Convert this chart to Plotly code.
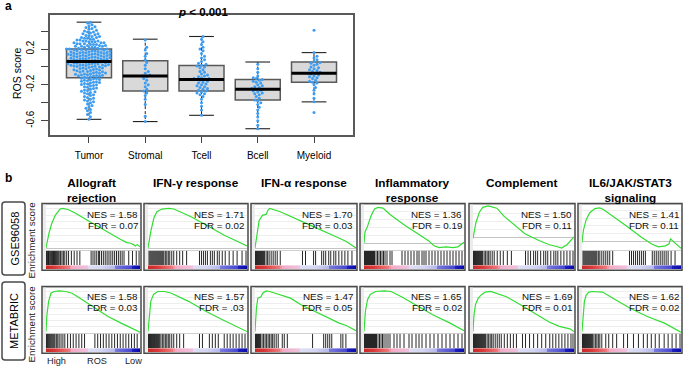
import plotly.graph_objects as go

W, H = 685, 368
FONT = "Liberation Sans, Arial, sans-serif"

# ---------------- panel a data ----------------
categories = ["Tumor", "Stromal", "Tcell", "Bcell", "Myeloid"]
tumor = [0.50, 0.49, 0.47, 0.46, 0.45, 0.44, 0.43, 0.42, 0.41, 0.40,
         0.39, 0.39, 0.38, 0.37, 0.37, 0.36, 0.35, 0.35, 0.34, 0.34, 0.33, 0.33, 0.32, 0.32, 0.31, 0.31, 0.30, 0.30,
         0.29, 0.29, 0.29, 0.28, 0.28, 0.28, 0.27, 0.27, 0.27, 0.26, 0.26, 0.26, 0.25, 0.25, 0.25, 0.24, 0.24,
         0.24, 0.23, 0.23, 0.23, 0.22, 0.22, 0.22, 0.21, 0.21, 0.21, 0.20, 0.20, 0.20,
         0.199, 0.195, 0.19, 0.188, 0.185, 0.182, 0.18, 0.178, 0.175, 0.172, 0.17, 0.168, 0.165, 0.162, 0.16,
         0.158, 0.155, 0.152, 0.15, 0.148, 0.145, 0.143, 0.142, 0.14, 0.138, 0.135, 0.132, 0.13, 0.128, 0.125,
         0.122, 0.12, 0.118, 0.115, 0.112, 0.11, 0.108, 0.105, 0.102, 0.10,
         0.098, 0.095, 0.092, 0.09, 0.088, 0.085, 0.082, 0.08, 0.078, 0.075, 0.072, 0.07, 0.068, 0.065, 0.062,
         0.06, 0.058, 0.055, 0.052, 0.05, 0.048, 0.045, 0.042, 0.04, 0.038, 0.035, 0.032, 0.03, 0.028, 0.025,
         0.022, 0.02, 0.018, 0.015, 0.012, 0.01, 0.008, 0.005, 0.002, 0.0,
         -0.005, -0.01, -0.013, -0.017, -0.02, -0.024, -0.028, -0.031, -0.035, -0.039, -0.042, -0.046, -0.05,
         -0.053, -0.057, -0.06, -0.064, -0.068, -0.071, -0.075, -0.079, -0.082, -0.086, -0.09, -0.093, -0.096,
         -0.098, -0.10,
         -0.105, -0.11, -0.115, -0.12, -0.125, -0.13, -0.135, -0.14, -0.145, -0.15, -0.155, -0.16, -0.165,
         -0.17, -0.175, -0.18, -0.185, -0.19, -0.195, -0.20,
         -0.207, -0.214, -0.221, -0.228, -0.235, -0.242, -0.25, -0.257, -0.264, -0.271, -0.278, -0.285,
         -0.292, -0.30,
         -0.31, -0.32, -0.33, -0.34, -0.35, -0.36, -0.37, -0.38, -0.39, -0.40,
         -0.415, -0.43, -0.445, -0.46, -0.475, -0.49,
         -0.51, -0.53, -0.555, -0.585]
stromal = [0.30, 0.22, 0.19, 0.15, 0.12, 0.08, 0.05, 0.02, -0.02, -0.05, -0.07, -0.09, -0.10, -0.11,
           -0.13, -0.15, -0.18, -0.20, -0.22, -0.25, -0.27, -0.29, -0.32, -0.36, -0.42, -0.55, -0.61]
tcell = [0.34, 0.31, 0.28, 0.25, 0.22, 0.20, 0.18, 0.15, 0.12, 0.10, 0.08, 0.06, 0.04, 0.03, 0.02, 0.01,
         0.0, -0.01, -0.03, -0.05, -0.06, -0.08, -0.09, -0.10, -0.11, -0.12, -0.13, -0.13, -0.14, -0.14,
         -0.15, -0.16, -0.17, -0.18, -0.19, -0.20, -0.21, -0.22, -0.23, -0.24, -0.25, -0.26, -0.27, -0.28,
         -0.29, -0.30, -0.31, -0.33, -0.36, -0.40, -0.44, -0.48, -0.54]
bcell = [0.03, -0.02, -0.06, -0.10, -0.12, -0.13, -0.14, -0.15, -0.16, -0.17, -0.18, -0.20, -0.21, -0.22,
         -0.23, -0.24, -0.25, -0.25, -0.26, -0.27, -0.28, -0.29, -0.30, -0.31, -0.33, -0.35, -0.37, -0.38,
         -0.40, -0.42, -0.45, -0.48, -0.52, -0.56, -0.60, -0.65, -0.69]
myeloid = [0.41, 0.16, 0.12, 0.10, 0.08, 0.06, 0.05, 0.04, 0.03, 0.02, 0.0, -0.01, -0.02, -0.03, -0.04,
           -0.05, -0.06, -0.07, -0.07, -0.08, -0.09, -0.10, -0.11, -0.12, -0.13, -0.15, -0.16, -0.17, -0.18,
           -0.20, -0.23, -0.26, -0.30, -0.35, -0.39, -0.51]
group_values = [tumor, stromal, tcell, bcell, myeloid]
box_q1 = [-0.12, -0.27, -0.27, -0.37, -0.17]
box_median = [0.06, -0.10, -0.14, -0.25, -0.07]
box_q3 = [0.20, 0.07, 0.015, -0.14, 0.055]
whisker_low = [-0.585, -0.61, -0.54, -0.69, -0.39]
whisker_high = [0.50, 0.31, 0.34, 0.055, 0.16]
y_ticks = [0.4, 0.2, 0.0, -0.2, -0.4, -0.6]
y_tick_text = ["", "0.2", "", "-0.2", "", "-0.6"]

# ---------------- panel b data ----------------
gene_sets = ["Allograft<br>rejection", "IFN-γ response", "IFN-α response",
             "Inflammatory<br>response", "Complement", "IL6/JAK/STAT3<br>signaling"]
cohorts = ["GSE96058", "METABRIC"]
nes = [[1.58, 1.71, 1.70, 1.36, 1.50, 1.41],
       [1.58, 1.57, 1.47, 1.65, 1.69, 1.62]]
fdr = [["0.07", "0.02", "0.03", "0.19", "0.11", "0.11"],
       ["0.03", ".03", "0.05", "0.02", "0.01", "0.02"]]

es_rank_gse = [
    [0, 3, 6, 10, 15, 18, 24, 31, 48, 65, 79, 86, 90, 93, 95, 97, 100],
    [0, 3, 6, 9, 14, 21, 26, 43, 60, 77, 90, 100],
    [0, 2.4, 4.1, 7.6, 11, 12.8, 14.5, 25, 42, 59, 77, 90, 100],
    [0, 1, 3.5, 7, 10.5, 14, 19, 26, 40, 54, 64.5, 70, 75, 82, 89, 94, 97.5, 100],
    [0, 1, 2.8, 6.3, 9.7, 15, 20, 23.6, 30.6, 41, 51.4, 65.3, 75.7, 82.6, 87.8, 93, 96.5, 100],
    [0, 1.4, 4.2, 7.7, 12.9, 18, 21.6, 32, 46, 60, 70.4, 77.4, 84.3, 87.8, 89.5, 91.3, 94.8, 100],
]
es_score_gse = [
    [0.01, 0.22, 0.37, 0.50, 0.59, 0.60, 0.58, 0.53, 0.39, 0.25, 0.14, 0.09, 0.08, 0.06, 0.04, 0.06, 0.03],
    [0.01, 0.27, 0.46, 0.55, 0.59, 0.60, 0.59, 0.48, 0.34, 0.20, 0.11, 0.04],
    [0.01, 0.30, 0.42, 0.50, 0.51, 0.57, 0.60, 0.55, 0.43, 0.32, 0.20, 0.11, 0.01],
    [0.0, 0.14, 0.21, 0.34, 0.43, 0.45, 0.44, 0.36, 0.23, 0.12, 0.03, -0.035, -0.057, -0.048, -0.057, -0.048, -0.013, 0.01],
    [-0.01, 0.05, 0.185, 0.32, 0.38, 0.40, 0.38, 0.37, 0.27, 0.16, 0.05, -0.035, -0.088, -0.11, -0.13, -0.088, -0.035, 0.01],
    [-0.01, 0.145, 0.28, 0.365, 0.42, 0.43, 0.41, 0.32, 0.19, 0.057, -0.03, -0.066, -0.053, -0.03, 0.035, 0.013, -0.03, -0.084],
]
es_rank_met = [
    [0, 1, 2.8, 5.2, 8.7, 13.9, 20.8, 27.8, 38.2, 52.1, 66, 79.9, 90.3, 100],
    [0, 1.4, 2.8, 5.6, 9.7, 16.7, 23.6, 41, 58.3, 75.7, 89.6, 100],
    [0, 1.4, 2.8, 4.1, 5.9, 7.6, 11, 14.5, 24.8, 35.2, 45.5, 59.3, 76.6, 83.4, 90.3, 100],
    [0, 1.4, 3.5, 6.3, 11.5, 20.1, 27, 37.5, 51.4, 68.75, 86.1, 100],
    [0, 1, 2.4, 5.2, 8.7, 12.2, 17.4, 22.6, 33.1, 47, 61, 74.9, 85.4, 95.8, 100],
    [0, 1, 2.4, 4.2, 6.9, 10.4, 17.4, 20.8, 31.25, 48.6, 66, 83.3, 100],
]
es_score_met = [
    [0.01, 0.30, 0.53, 0.67, 0.70, 0.71, 0.70, 0.67, 0.56, 0.41, 0.27, 0.155, 0.08, 0.0],
    [0.01, 0.36, 0.53, 0.65, 0.70, 0.70, 0.67, 0.53, 0.36, 0.21, 0.10, 0.01],
    [0.01, 0.41, 0.585, 0.60, 0.61, 0.67, 0.71, 0.70, 0.64, 0.585, 0.47, 0.36, 0.21, 0.155, 0.115, 0.023],
    [0.01, 0.36, 0.56, 0.65, 0.70, 0.71, 0.70, 0.61, 0.47, 0.30, 0.155, 0.023],
    [0.01, 0.30, 0.47, 0.585, 0.65, 0.69, 0.70, 0.67, 0.61, 0.47, 0.33, 0.18, 0.10, 0.057, 0.01],
    [0.01, 0.30, 0.53, 0.64, 0.69, 0.70, 0.70, 0.69, 0.585, 0.41, 0.27, 0.155, 0.0],
]
hits_gse = [
    [0.5, 1.5, 2.5, 3, 4, 5, 6, 7, 8, 9, 10, 11, 12, 13, 14, 15.5, 17, 18.5, 20, 22, 24, 27, 30, 33, 36,
     48, 50, 52, 54, 56, 57, 59, 61, 63, 65, 67, 69, 71, 73, 75, 77, 79, 81, 83, 88, 92, 96, 99],
    [1, 2, 3, 4, 5, 6, 7, 8, 9, 10, 11, 12, 13, 14, 15, 16, 17.5, 19, 20.5, 22, 24, 26, 29, 32, 35, 39,
     52, 54, 56, 58, 60, 63, 65, 67, 70, 72, 75, 78, 82, 86, 90, 95, 99],
    [0.5, 1.5, 2.5, 3.5, 4.5, 5.5, 6.5, 7.5, 8.5, 9.5, 11, 12.5, 14, 16, 18, 20, 22, 25,
     47, 50, 58, 60, 66, 68, 70, 73, 75, 78, 80, 83, 86, 89, 92, 96],
    [0.5, 1.5, 2.5, 3.5, 4.5, 5.5, 6.5, 7.5, 8.5, 9.5, 10.5, 12, 13.5, 15, 16.5, 18, 19.5, 21, 23, 26, 28,
     38, 41, 44, 47, 50, 53, 55, 58, 60, 62, 65, 68, 71, 74, 77, 80, 83, 86, 89, 92, 95, 98],
    [0.5, 1.5, 2.5, 3.5, 4.5, 5.5, 6.5, 7.5, 8.5, 9.5, 11, 12.5, 14, 15.5, 17, 19, 21, 24, 27, 30, 34, 38,
     52, 54.5, 57, 60, 62, 64, 67, 70, 72, 74, 77, 80, 82, 84, 87, 90, 93, 96, 99],
    [1, 2, 3, 4, 5, 6, 7, 8, 9, 10, 11, 12, 13, 14, 15, 16.5, 18, 20, 22, 24, 26, 28, 31,
     48, 50, 52, 54, 56, 58, 60, 62, 64, 71, 73, 75, 77, 79, 81, 83, 85, 87, 90, 94],
]
hits_met = [
    [0.5, 1.5, 2.5, 3.5, 4.5, 5.5, 6.5, 7.5, 8.5, 9.5, 11, 12.5, 14, 16, 18, 20, 23, 26, 29, 32, 35, 38, 41,
     52, 55, 58, 61, 64, 67, 70, 73, 76, 79, 82, 85, 88, 91, 94, 97],
    [0.5, 1.5, 2.5, 3.5, 4.5, 5.5, 6.5, 7.5, 8.5, 9.5, 10.5, 11.5, 13, 14.5, 16, 17.5, 19, 20.5, 22, 24, 26,
     29, 32, 36, 52, 55, 62, 65, 68, 71, 77, 80, 83, 86, 89, 92, 95, 98],
    [0.5, 1.5, 2.5, 3.5, 4.5, 5.5, 7, 8.5, 10, 11.5, 13, 14.5, 16, 17.5, 19, 21, 23,
     27, 29, 32, 57, 68, 70, 72, 74, 76, 85, 87, 90],
    [0.5, 1.5, 2.5, 3.5, 4.5, 5.5, 6.5, 7.5, 8.5, 9.5, 10.5, 11.5, 12.5, 14, 15.5, 17, 18.5, 20, 22, 24, 26,
     30, 33, 36, 40, 45, 48, 52, 55, 58, 62, 66, 70, 74, 78, 82, 86, 90, 94, 98],
    [0.5, 1.5, 2.5, 3.5, 4.5, 5.5, 6.5, 7.5, 8.5, 9.5, 10.5, 11.5, 12.5, 14, 15.5, 17, 18.5, 20, 22, 24, 26,
     28, 31, 34, 37, 40, 43, 49, 52, 56, 60, 64, 68, 72, 76, 79, 82, 85, 88, 91, 94, 97, 99],
    [0.5, 1.5, 2.5, 3.5, 4.5, 5.5, 6.5, 7.5, 8.5, 9.5, 10.5, 12, 13.5, 15, 16.5, 18, 20,
     24, 27, 31, 35, 42, 46, 52, 57, 62, 66, 70, 74, 78, 83, 87, 91, 95, 99],
]
rank_positions = list(range(0, 101, 2))

# ---------------- layout geometry (pixels) ----------------
A_LEFT, A_RIGHT, A_TOP, A_BOT = 50, 353, 15, 135
panel_left = [42, 144, 251, 360, 469, 578]
panel_right = [141, 248, 357, 465, 575, 682]
row_top = [203.5, 286.5]
PANEL_H = 66.7
es_ranges = [[[-0.02, 0.65], [-0.02, 0.65], [-0.02, 0.65], [-0.088, 0.48], [-0.154, 0.41], [-0.106, 0.466]],
             [[-0.015, 0.76]] * 6]


def fx(p):
    return p / W


def fy(p):
    return 1 - p / H


def note(text, x, y, size, color="black", angle=0, xanchor="center", yanchor="middle"):
    return dict(text=text, x=fx(x), y=fy(y), xref="paper", yref="paper", xanchor=xanchor,
                yanchor=yanchor, textangle=angle, showarrow=False, borderpad=0,
                font=dict(size=size, color=color, family=FONT))


fig = go.Figure()
layout = {}
annotations = []
shapes = []

# ---------------- panel a ----------------
PX_PER_X = (A_RIGHT - A_LEFT) / 5.386
PX_PER_Y = (A_BOT - A_TOP) / 1.34


def swarm_offsets(values, d):
    placed = []
    order = sorted(range(len(values)), key=lambda k: values[k])
    res = [0.0] * len(values)
    cands = [0.0]
    for i in range(1, 60):
        cands += [i * d * 0.5, -i * d * 0.5]
    for k in order:
        y = values[k] * PX_PER_Y
        chosen = 0.0
        for c in cands:
            ok = True
            for (px, py) in placed:
                if abs(py - y) < d and (c - px) ** 2 + (y - py) ** 2 < d * d:
                    ok = False
                    break
            if ok:
                chosen = c
                break
        placed.append((chosen, y))
        res[k] = chosen
    return res


for i, cat in enumerate(categories):
    fig.add_trace(go.Box(x=[i], q1=[box_q1[i]], median=[box_median[i]], q3=[box_q3[i]],
                         lowerfence=[box_q1[i]], upperfence=[box_q3[i]], width=0.8,
                         fillcolor="#d9d9d9", line=dict(color="#595959", width=1.5),
                         whiskerwidth=0, boxpoints=False, showlegend=False, hoverinfo="skip",
                         xaxis="x", yaxis="y"))

wx, wy, cx, cy, mx, my = [], [], [], [], [], []
for i in range(len(categories)):
    wx += [i, i, None, i, i, None]
    wy += [box_q3[i], whisker_high[i], None, box_q1[i], whisker_low[i], None]
    cx += [i - 0.22, i + 0.22, None, i - 0.22, i + 0.22, None]
    cy += [whisker_high[i], whisker_high[i], None, whisker_low[i], whisker_low[i], None]
    mx += [i - 0.4, i + 0.4, None]
    my += [box_median[i], box_median[i], None]
fig.add_trace(go.Scatter(x=wx, y=wy, mode="lines", line=dict(color="#222", width=1, dash="3px,2px"),
                         showlegend=False, hoverinfo="skip", xaxis="x", yaxis="y"))
fig.add_trace(go.Scatter(x=cx, y=cy, mode="lines", line=dict(color="#222", width=1.1),
                         showlegend=False, hoverinfo="skip", xaxis="x", yaxis="y"))

for i, vals in enumerate(group_values):
    offs = swarm_offsets(vals, 3.0)
    fig.add_trace(go.Scatter(x=[i + o / PX_PER_X for o in offs], y=vals, mode="markers",
                             marker=dict(color="#3d9df2", size=3, line=dict(width=0)),
                             showlegend=False, hoverinfo="skip", xaxis="x", yaxis="y"))

fig.add_trace(go.Scatter(x=mx, y=my, mode="lines", line=dict(color="black", width=3),
                         showlegend=False, hoverinfo="skip", xaxis="x", yaxis="y"))

layout["xaxis"] = dict(domain=[fx(A_LEFT), fx(A_RIGHT)], range=[-0.693, 4.693],
                       tickvals=list(range(len(categories))), ticktext=categories,
                       ticks="outside", ticklen=6, tickcolor="#444", tickwidth=1,
                       showline=True, mirror=True, linecolor="#595959", linewidth=1.5,
                       showgrid=False, zeroline=False, anchor="y",
                       tickfont=dict(size=10, color="black", family=FONT), ticklabelstandoff=4)
layout["yaxis"] = dict(domain=[fy(A_BOT), fy(A_TOP)], range=[-0.76, 0.58],
                       tickvals=y_ticks, ticktext=y_tick_text, tickangle=-90,
                       ticks="outside", ticklen=7, tickcolor="#444", tickwidth=1,
                       showline=True, mirror=True, linecolor="#595959", linewidth=1.5,
                       showgrid=False, zeroline=False, anchor="x",
                       tickfont=dict(size=10, color="black", family=FONT), ticklabelstandoff=3)

annotations.append(note("<b><i>p</i> &lt; 0.001</b>", 203, 11.5, 11.5))
annotations.append(note("ROS score", 17, 73, 10.5, angle=-90))
annotations.append(note("<b>a</b>", 8.5, 5.5, 12))
annotations.append(note("<b>b</b>", 8.5, 178, 12))

# ---------------- panel b ----------------
cscale = [[0, "#c82828"], [0.1, "#dc3a3a"], [0.25, "#ee7c80"], [0.27, "#f2aac6"], [0.44, "#eec2dc"],
          [0.46, "#dedff4"], [0.6, "#d2d4f2"], [0.72, "#b6b8ec"], [0.74, "#7878dc"], [0.9, "#4848d0"],
          [0.92, "#1e1ebe"], [1, "#0a0aa8"]]

ax = 2
for r in range(2):
    ranks = es_rank_gse if r == 0 else es_rank_met
    scores = es_score_gse if r == 0 else es_score_met
    hits = hits_gse if r == 0 else hits_met
    T = row_top[r]
    B = T + PANEL_H
    for c in range(6):
        L, R = panel_left[c], panel_right[c]
        xd = [fx(L + 4), fx(R - 1)]
        shapes.append(dict(type="rect", xref="paper", yref="paper", x0=fx(L + 0.8), x1=fx(L + 4),
                           y0=fy(B - 0.8), y1=fy(T + 0.8), fillcolor="#ececec", line=dict(width=0),
                           layer="below"))
        shapes.append(dict(type="rect", xref="paper", yref="paper", x0=fx(L), x1=fx(R),
                           y0=fy(B), y1=fy(T), line=dict(color="#4a4a4a", width=1.5)))
        n1 = ax
        layout[f"xaxis{n1}"] = dict(domain=xd, range=[0, 100], anchor=f"y{n1}", showticklabels=False,
                                    showgrid=False, zeroline=False, showline=True, mirror=True,
                                    linecolor="#d0d0d0", linewidth=0.6, ticks="")
        layout[f"yaxis{n1}"] = dict(domain=[fy(T + 46.5), fy(T + 1.5)], range=es_ranges[r][c],
                                    anchor=f"x{n1}", showticklabels=False, dtick=0.1,
                                    showgrid=True, gridcolor="#eeeeee", gridwidth=0.6,
                                    zeroline=True, zerolinecolor="#c4c4c4", zerolinewidth=1,
                                    showline=False, ticks="")
        fig.add_trace(go.Scatter(x=ranks[c], y=scores[c], mode="lines",
                                 line=dict(color="#33dd33", width=1.2), showlegend=False,
                                 hoverinfo="skip", xaxis=f"x{n1}", yaxis=f"y{n1}"))
        n2 = ax + 1
        layout[f"xaxis{n2}"] = dict(domain=xd, range=[0, 100], anchor=f"y{n2}", visible=False)
        layout[f"yaxis{n2}"] = dict(domain=[fy(T + 61.7), fy(T + 47.2)], range=[0, 1],
                                    anchor=f"x{n2}", visible=False)
        bx, by = [], []
        for h in hits[c]:
            bx += [h, h, None]
            by += [0, 1, None]
        fig.add_trace(go.Scatter(x=bx, y=by, mode="lines", line=dict(color="rgba(0,0,0,0.85)", width=1),
                                 showlegend=False, hoverinfo="skip", xaxis=f"x{n2}", yaxis=f"y{n2}"))
        n3 = ax + 2
        layout[f"xaxis{n3}"] = dict(domain=xd, range=[0, 100], anchor=f"y{n3}", visible=False)
        layout[f"yaxis{n3}"] = dict(domain=[fy(B - 1), fy(T + 61.7)], range=[-0.5, 0.5],
                                    anchor=f"x{n3}", visible=False)
        fig.add_trace(go.Heatmap(x=rank_positions, y=[0], z=[rank_positions], colorscale=cscale,
                                 zmin=0, zmax=100, showscale=False, hoverinfo="skip",
                                 xaxis=f"x{n3}", yaxis=f"y{n3}"))
        ax += 3
        dy = 10.7 if r == 0 else 10.0
        annotations.append(note(f"NES = {nes[r][c]:.2f}", R - 2.5, T + dy, 9.8, "#111", xanchor="right"))
        annotations.append(note(f"FDR = {fdr[r][c]}", R - 2.5, T + dy + 11.3, 9.8, "#111", xanchor="right"))
        if r == 0:
            annotations.append(note(f"<b>{gene_sets[c]}</b>", (L + R) / 2, 175, 11.8, yanchor="top"))


def rounded(x0, y0, x1, y1, rad=3):
    a, b, cc, d = fx(x0), fx(x1), fy(y1), fy(y0)
    rx, ry = rad / W, rad / H
    return (f"M {a+rx},{d} L {b-rx},{d} Q {b},{d} {b},{d-ry} L {b},{cc+ry} Q {b},{cc} {b-rx},{cc} "
            f"L {a+rx},{cc} Q {a},{cc} {a},{cc+ry} L {a},{d-ry} Q {a},{d} {a+rx},{d} Z")


cohort_boxes = [(2, 202, 25, 275), (2, 282, 25, 360)]
enrich_centers = [240, 324]
for k, (x0, y0, x1, y1) in enumerate(cohort_boxes):
    shapes.append(dict(type="path", xref="paper", yref="paper", path=rounded(x0, y0, x1, y1),
                       line=dict(color="#4a4a4a", width=1.5)))
    annotations.append(note(cohorts[k], (x0 + x1) / 2 + 0.5, (y0 + y1) / 2, 11, angle=-90))
    annotations.append(note("Enrichment score", 30.5, enrich_centers[k], 9.8, "#222", angle=-90))

for lab, xp in zip(["High", "ROS", "Low"], [56, 97, 133]):
    annotations.append(note(lab, xp, 361, 9.2, "#222"))

fig.update_layout(width=W, height=H, margin=dict(l=0, r=0, t=0, b=0), paper_bgcolor="white",
                  plot_bgcolor="white", boxmode="overlay", showlegend=False,
                  annotations=annotations, shapes=shapes, **layout)
fig.write_html("out.html", config={"displayModeBar": False},
               post_script="document.body.style.margin='0';document.body.style.overflow='hidden';")
